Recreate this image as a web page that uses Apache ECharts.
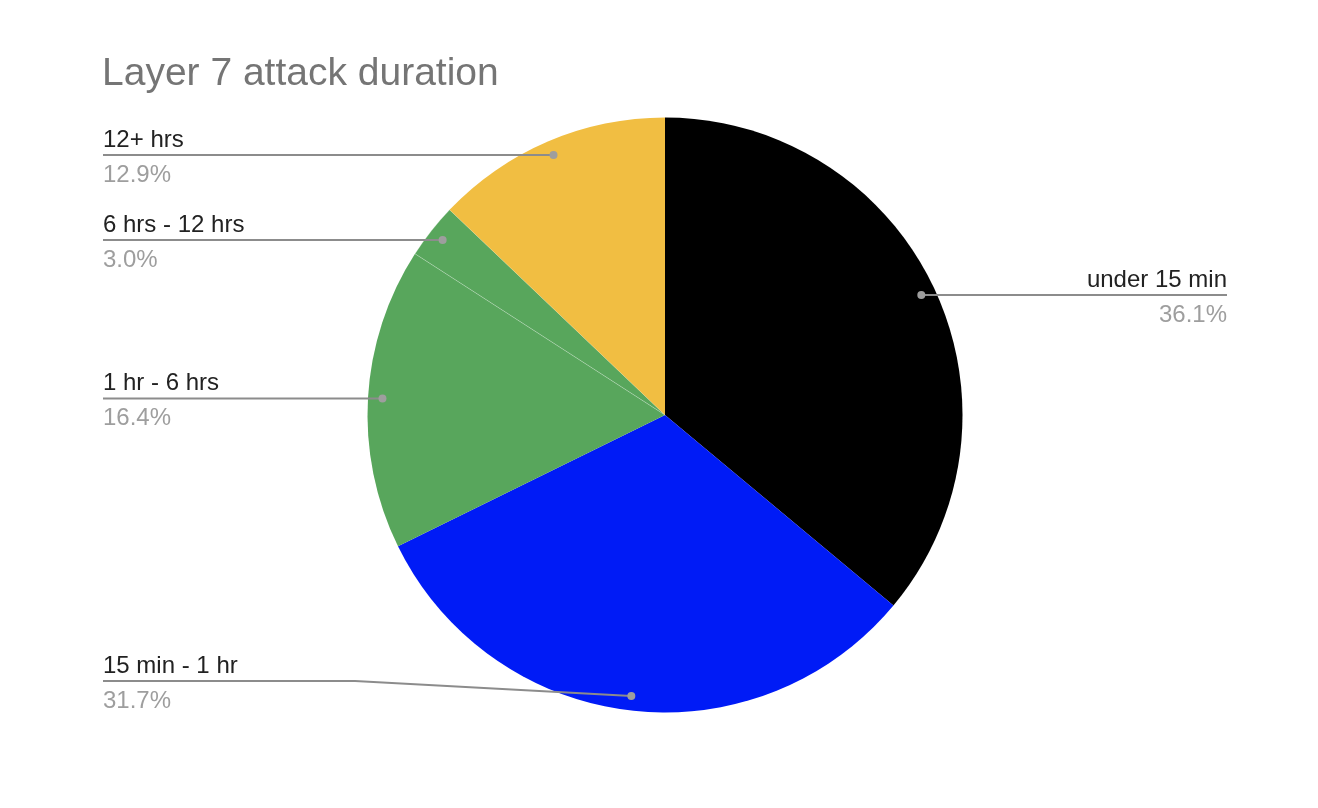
<!DOCTYPE html>
<html>
<head>
<meta charset="utf-8">
<script src="https://cdn.jsdelivr.net/npm/echarts@6/dist/echarts.min.js"></script>
<style>
html,body{margin:0;padding:0;background:#fff;}
#chart{width:1318px;height:808px;}
</style>
</head>
<body>
<div id="chart"></div>
<script>
// ---- data ----
var titleText = 'Layer 7 attack duration';
var categories = ['under 15 min', '15 min - 1 hr', '1 hr - 6 hrs', '6 hrs - 12 hrs', '12+ hrs'];
var values = [36.1, 31.7, 16.4, 3.0, 12.9];
var sliceColors = ['#000000', '#001BF6', '#58A65C', '#58A65C', '#F1BE42'];

// ---- layout constants ----
var CENTER = [665, 415];
var RADIUS = 297.5;
var DOT_R = 283;
var LEFT_X = 103;
var RIGHT_X = 1227;
var LABEL_Y_MAX = 681;
var LABEL_DY = 2.5;
var ELBOW_X = 355;
var FONT = '"Liberation Sans", Arial, sans-serif';

var chart = echarts.init(document.getElementById('chart'), null, {renderer: 'canvas'});

var mainData = categories.map(function (c, i) {
  return {
    name: c,
    value: values[i],
    itemStyle: {
      color: sliceColors[i],
      borderColor: i === 3 ? 'rgba(255,255,255,0.35)' : sliceColors[i],
      borderWidth: i === 3 ? 0.8 : 0
    }
  };
});
var plainData = categories.map(function (c, i) {
  return {name: c, value: values[i]};
});

chart.setOption({
  animation: false,
  title: {
    text: titleText,
    left: 97,
    top: 50,
    textStyle: {fontFamily: FONT, fontSize: 39, fontWeight: 'normal', color: '#757575'}
  },
  series: [
    {
      type: 'pie',
      z: 2,
      center: CENTER,
      radius: [0, RADIUS],
      startAngle: 90,
      clockwise: true,
      silent: true,
      emphasis: {disabled: true},
      data: mainData,
      label: {show: false},
      labelLine: {show: false}
    },
    {
      type: 'pie',
      z: 3,
      center: CENTER,
      radius: [0, DOT_R],
      startAngle: 90,
      clockwise: true,
      avoidLabelOverlap: false,
      silent: true,
      emphasis: {disabled: true},
      data: plainData,
      itemStyle: {color: 'rgba(0,0,0,0)', borderWidth: 0},
      label: {
        show: true,
        position: 'outside',
        fontFamily: FONT,
        formatter: function (p) {
          return '{n|' + p.name + '}\n{v|' + p.value.toFixed(1) + '%}';
        },
        rich: {
          n: {fontFamily: FONT, fontSize: 24, color: '#222222', lineHeight: 35},
          v: {fontFamily: FONT, fontSize: 24, color: '#9E9E9E', lineHeight: 35}
        }
      },
      labelLine: {
        show: true,
        showAbove: true,
        length: 10,
        length2: 10,
        lineStyle: {color: '#8C8C8C', width: 2}
      },
      labelLayout: function (p) {
        var pts = p.labelLinePoints;
        if (!pts) return {};
        var dx = pts[0][0];
        var dy = pts[0][1];
        var left = dx < CENTER[0];
        var y = Math.min(dy, LABEL_Y_MAX);
        var ex = left ? LEFT_X : RIGHT_X;
        var mid = (y === dy) ? [(dx + ex) / 2, y] : [ELBOW_X, y];
        return {
          x: ex,
          y: y + LABEL_DY,
          align: left ? 'left' : 'right',
          verticalAlign: 'middle',
          labelLinePoints: [[dx, dy], mid, [ex, y]]
        };
      }
    },
    {
      type: 'pie',
      z: 4,
      center: CENTER,
      radius: [DOT_R - 7, DOT_R + 1],
      startAngle: 90,
      clockwise: true,
      silent: true,
      emphasis: {disabled: true},
      data: plainData,
      itemStyle: {color: 'rgba(0,0,0,0)', borderWidth: 0},
      label: {
        show: true,
        position: 'inside',
        formatter: ' ',
        width: 8,
        height: 8,
        lineHeight: 8,
        fontSize: 8,
        padding: 0,
        backgroundColor: '#9E9E9E',
        borderRadius: 4,
        align: 'center',
        verticalAlign: 'middle'
      },
      labelLine: {show: false}
    }
  ]
});
</script>
</body>
</html>
